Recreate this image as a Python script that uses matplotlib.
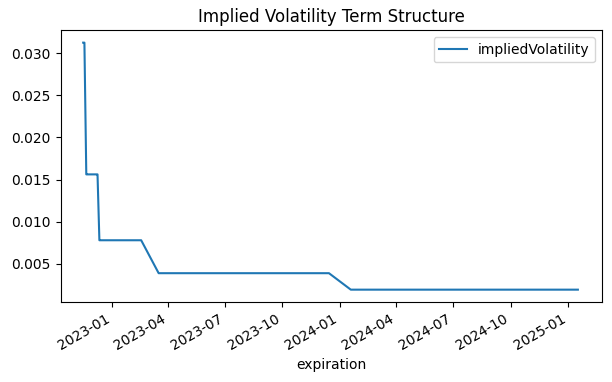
import numpy as np
import pandas as pd
import matplotlib
matplotlib.use("Agg")
from matplotlib import pyplot as plt
import matplotlib.dates as mdates

expiration = [
    "2022-11-16", "2022-11-18",
    "2022-11-21", "2022-11-23", "2022-11-25", "2022-11-28", "2022-11-30",
    "2022-12-02", "2022-12-05", "2022-12-07", "2022-12-09",
    "2022-12-12", "2022-12-14", "2022-12-16", "2022-12-23", "2022-12-30",
    "2023-01-20", "2023-02-17",
    "2023-03-17", "2023-04-21", "2023-06-16", "2023-09-15", "2023-12-15",
    "2024-01-19", "2024-06-21", "2024-12-20", "2025-01-17",
]
impliedVolatility = [
    0.03125, 0.03125,
    0.015625, 0.015625, 0.015625, 0.015625, 0.015625,
    0.015625, 0.015625, 0.015625, 0.015625,
    0.0078125, 0.0078125, 0.0078125, 0.0078125, 0.0078125,
    0.0078125, 0.0078125,
    0.00390625, 0.00390625, 0.00390625, 0.00390625, 0.00390625,
    0.001953125, 0.001953125, 0.001953125, 0.001953125,
]

df = pd.DataFrame({"expiration": pd.to_datetime(expiration),
                   "impliedVolatility": impliedVolatility})

fig, ax = plt.subplots(figsize=(6.12, 3.82), dpi=100)
ax.plot(df["expiration"], df["impliedVolatility"], color="C0", label="impliedVolatility")
ax.set_title("Implied Volatility Term Structure")
ax.set_xlabel("expiration")
ax.legend(loc="upper right")

ax.set_xlim(pd.Timestamp("2022-10-11"), pd.Timestamp("2025-02-25"))
ax.xaxis.set_major_locator(mdates.MonthLocator(bymonth=[1, 4, 7, 10]))
ax.xaxis.set_major_formatter(mdates.DateFormatter("%Y-%m"))
fig.autofmt_xdate()

plt.subplots_adjust(left=0.0992, right=0.984, top=0.9207, bottom=0.2094)
fig.savefig("out.png", dpi=100)
